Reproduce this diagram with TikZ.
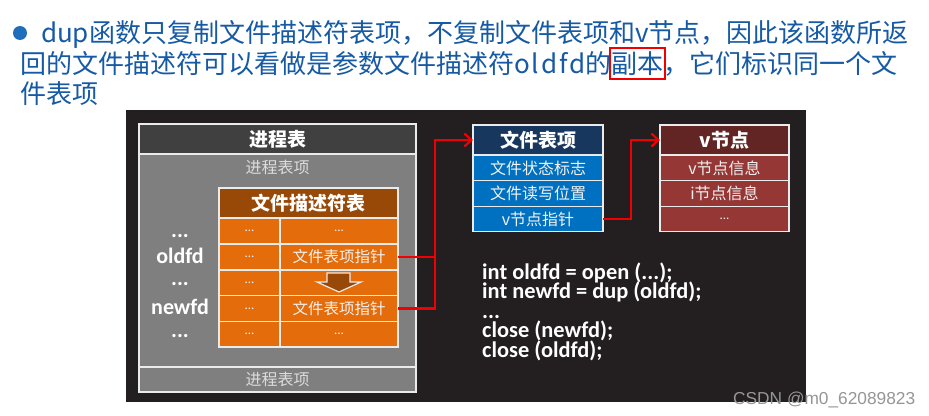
\documentclass[tikz,border=0pt]{standalone}
\usepackage{fontspec}
\usetikzlibrary{arrows.meta,calc,positioning}
\setmainfont{Carlito}
\newfontfamily\cjk{Noto Sans CJK SC}
\newfontfamily\cjkwide{Noto Sans CJK SC}[LetterSpace=7.5]
\newfontfamily\codef{Carlito}
\newfontfamily\wmf{Liberation Sans}
\definecolor{titleblue}{RGB}{22,90,165}
\definecolor{bulletblue}{RGB}{30,110,185}
\definecolor{panel}{RGB}{35,31,32}
\definecolor{phead}{RGB}{64,64,64}
\definecolor{pbody}{RGB}{127,127,127}
\definecolor{ptext}{RGB}{220,220,220}
\definecolor{fdhead}{RGB}{152,72,7}
\definecolor{fdrow}{RGB}{228,108,10}
\definecolor{fthead}{RGB}{23,55,94}
\definecolor{ftrow}{RGB}{0,112,192}
\definecolor{vhead}{RGB}{99,37,35}
\definecolor{vrow}{RGB}{149,55,53}
\definecolor{linkred}{RGB}{240,0,0}
\definecolor{wmgray}{RGB}{150,150,150}
\tikzset{
  cellbox/.style={draw=white!92!black, line width=1.2pt, inner sep=0pt, outer sep=0pt, text=white!95!black},
  hdrtext/.style={font=\cjk\bfseries\fontsize{19}{19}\selectfont, text=white},
  rowtext/.style={font=\cjk\fontsize{15.5}{15.5}\selectfont},
  dottext/.style={font=\codef\fontsize{13}{13}\selectfont},
  sidelabel/.style={font=\codef\bfseries\fontsize{22}{22}\selectfont, text=white, inner sep=0pt},
  sidedots/.style={font=\codef\bfseries\fontsize{22}{22}\selectfont, text=white, inner sep=0pt, anchor=base, text height=3pt, text depth=0pt},
  codeline/.style={anchor=base west, inner sep=0pt, text height=14.5pt, text depth=4pt, text=white, font=\codef\bfseries\fontsize{22.4}{22.4}\selectfont},
  topline/.style={font=\cjk\fontsize{26}{26}\selectfont, text=titleblue, inner sep=0pt, outer sep=0pt, anchor=base west},
  redlink/.style={draw=linkred, line width=2.6pt},
  redtip/.style={-{Straight Barb[length=7pt,width=13pt,line width=2.2pt]}}
}
\begin{document}
\begin{tikzpicture}[x=1pt,y=-1pt]
\useasboundingbox (0,0) rectangle (929,415);
\fill[white] (0,0) rectangle (929,415);
% heading text
\fill[bulletblue] (20,33) circle (7);
\node[topline] (l1) at (41,42) {dup函数只复制文件描述符表项，不复制文件表项和v节点，因此该函数所返};
\node[topline] (l2a) at (20,73) {回的文件描述符可以看做是参数文件描述符{\cjkwide oldfd}的};
\node[topline] (l2b) at (l2a.base east) {副本};
\node[topline] (l2c) at (l2b.base east) {，它们标识同一个文};
\node[topline] (l3) at (20,103) {件表项};
\draw[linkred, line width=1.6pt] ($(l2b.base west)+(-1.5,6)$) rectangle ($(l2b.base east)+(1.5,-25)$);
% dark panel
\fill[panel] (126,110) rectangle (806,402);
% process table
\node[cellbox, fill=phead, minimum width=277pt, minimum height=30pt, hdrtext] (ph) at (277.5,139) {进程表};
\node[cellbox, fill=pbody, minimum width=277pt, minimum height=213pt] (pb) at (277.5,260.5) {};
\node[rowtext, text=ptext, font=\cjk\fontsize{16}{16}\selectfont] (pi1) at (277.5,167) {进程表项};
\node[cellbox, fill=pbody, minimum width=277pt, minimum height=25pt, text=ptext, font=\cjk\fontsize{16}{16}\selectfont] (pf) at (277.5,379.5) {进程表项};
% fd table
\node[cellbox, fill=fdhead, minimum width=179pt, minimum height=30pt, hdrtext] (fdh) at (308.5,203) {文件描述符表};
\foreach \i/\y in {1/231,2/257,3/283,4/308.5,5/334}{
  \node[cellbox, fill=fdrow, minimum width=61pt, minimum height=25.8pt, dottext] (fd\i a) at (249.5,\y) {...};
}
\node[cellbox, fill=fdrow, minimum width=118pt, minimum height=25.8pt, dottext] (fd1b) at (339,231) {...};
\node[cellbox, fill=fdrow, minimum width=118pt, minimum height=25.8pt, rowtext] (fd2b) at (339,257) {文件表项指针};
\node[cellbox, fill=fdrow, minimum width=118pt, minimum height=25.8pt] (fd3b) at (339,283) {};
\node[cellbox, fill=fdrow, minimum width=118pt, minimum height=25.8pt, rowtext] (fd4b) at (339,308.5) {文件表项指针};
\node[cellbox, fill=fdrow, minimum width=118pt, minimum height=25.8pt, dottext] (fd5b) at (339,334) {...};
% down arrow
\begin{scope}[shift={(fd3b.center)}]
\draw[white!92!black, fill=fdhead, line width=1.2pt, line join=miter]
  (-12,-10) -- (11,-10) -- (11,-1) -- (22,-1) -- (0,9) -- (-22,-1) -- (-12,-1) -- cycle;
\end{scope}
% side labels
\node[sidedots] (s1) at (180,237) {...};
\node[sidelabel] (s2) at (180,256) {oldfd};
\node[sidedots] (s3) at (180,285) {...};
\node[sidelabel] (s4) at (180,307) {newfd};
\node[sidedots] (s5) at (180,337) {...};
% file table
\node[cellbox, fill=fthead, minimum width=130pt, minimum height=30pt, hdrtext] (fth) at (538,140) {文件表项};
\node[cellbox, fill=ftrow, minimum width=130pt, minimum height=25.7pt, rowtext, font=\cjk\fontsize{16}{16}\selectfont] (ft1) at (538,168) {文件状态标志};
\node[cellbox, fill=ftrow, minimum width=130pt, minimum height=25.7pt, rowtext, font=\cjk\fontsize{16}{16}\selectfont] (ft2) at (538,193.5) {文件读写位置};
\node[cellbox, fill=ftrow, minimum width=130pt, minimum height=25.7pt, rowtext, font=\cjk\fontsize{16}{16}\selectfont] (ft3) at (538,219) {v节点指针};
% v node
\node[cellbox, fill=vhead, minimum width=129pt, minimum height=30pt, hdrtext] (vh) at (724.5,140) {v节点};
\node[cellbox, fill=vrow, minimum width=129pt, minimum height=25.7pt, rowtext, font=\cjk\fontsize{16}{16}\selectfont] (v1) at (724.5,168) {v节点信息};
\node[cellbox, fill=vrow, minimum width=129pt, minimum height=25.7pt, rowtext, font=\cjk\fontsize{16}{16}\selectfont] (v2) at (724.5,193.5) {i节点信息};
\node[cellbox, fill=vrow, minimum width=129pt, minimum height=25.7pt, dottext] (v3) at (724.5,219) {...};
% red links
\coordinate (jx) at (435,0);
\coordinate (jy) at (631,0);
\draw[redlink, line join=miter] (fd4b.east) -- (fd4b.east -| jx) -- (fd2b.east -| jx);
\draw[redlink, redtip, line join=miter] (fd2b.east) -- (fd2b.east -| jx) |- (fth.west);
\draw[redlink, redtip, line join=miter] (ft3.east) -- (ft3.east -| jy) |- (vh.west);
% code
\node[codeline] (c1) at (482,279) {int oldfd = open (...);};
\node[codeline] (c2) at (482,298.5) {int newfd = dup (oldfd);};
\node[codeline] (c3) at (482,318) {...};
\node[codeline] (c4) at (482,337.5) {close (newfd);};
\node[codeline] (c5) at (482,357) {close (oldfd);};
% watermark
\node[anchor=base west, inner sep=0pt, text=wmgray, font=\wmf\fontsize{17.3}{17.3}\selectfont] (wm) at (733,404) {CSDN @m0\_62089823};
\end{tikzpicture}
\end{document}
